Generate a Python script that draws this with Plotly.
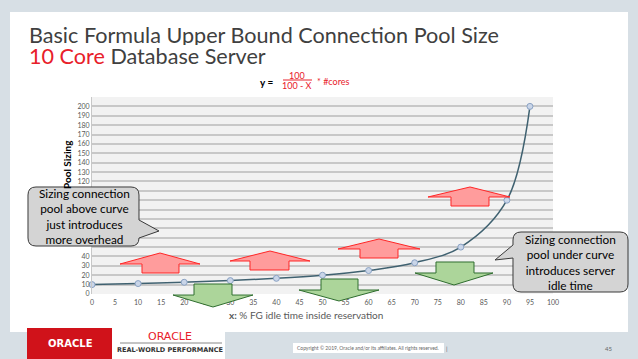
import plotly.graph_objects as go

# ---- data ----
idle_pct = [0, 10, 20, 30, 40, 50, 60, 70, 80, 90, 95]
pool_size = [10, 11.1, 12.5, 14.3, 16.7, 20, 25, 33.3, 50, 100, 200]
x_ticks = list(range(0, 101, 5))
y_ticks = list(range(0, 201, 10))
# labels 50-110 sit behind the left callout in the reference
y_hidden = set(range(50, 111, 10))

title_line1 = "Basic Formula Upper Bound Connection Pool Size"
title_red = "10 Core"
title_rest = " Database Server"
callout_left = ["Sizing connection", "pool above curve", "just introduces", "more overhead"]
callout_right = ["Sizing connection", "pool under curve", "introduces server", "idle time"]

FONT = "Lato"
FW, FH = 638, 359
L, R, T, B = 92, 553, 97, 294
W, H = R - L, B - T


def P(x, y):
    return (x - L) / W, (B - y) / H


def path(points, close=True):
    s = ""
    for i, p in enumerate(points):
        if p[0] == "Q":
            c = P(*p[1]); e = P(*p[2])
            s += f" Q{c[0]:.5f},{c[1]:.5f} {e[0]:.5f},{e[1]:.5f}"
        else:
            q = P(*p)
            s += (" M" if i == 0 else " L") + f"{q[0]:.5f},{q[1]:.5f}"
    return s.strip() + (" Z" if close else "")


def rounded_callout(x0, y0, x1, y1, r, wedge, side):
    pts = [(x0 + r, y0), (x1 - r, y0), ("Q", (x1, y0), (x1, y0 + r))]
    if side == "right":
        pts += [(x1, wedge[0]), wedge[1], (x1, wedge[2])]
    pts += [(x1, y1 - r), ("Q", (x1, y1), (x1 - r, y1)), (x0 + r, y1),
            ("Q", (x0, y1), (x0, y1 - r))]
    if side == "left":
        pts += [(x0, wedge[2]), wedge[1], (x0, wedge[0])]
    pts += [(x0, y0 + r), ("Q", (x0, y0), (x0 + r, y0))]
    return path(pts)


def up_arrow(tx, ty, hb, hx0, hx1, sx0, sx1, sb):
    return path([(tx, ty), (hx1, hb), (sx1, hb), (sx1, sb), (sx0, sb), (sx0, hb), (hx0, hb)])


def down_arrow(tx, ty, hb, hx0, hx1, sx0, sx1, st):
    return path([(tx, ty), (hx1, hb), (sx1, hb), (sx1, st), (sx0, st), (sx0, hb), (hx0, hb)])


fig = go.Figure()
fig.add_trace(go.Scatter(
    x=idle_pct, y=pool_size, mode="lines+markers",
    line=dict(color="#3f6170", width=1.5, shape="spline"),
    marker=dict(size=6, color="#c9d5e8", line=dict(color="#8aa2c4", width=1)),
    hoverinfo="skip", showlegend=False, cliponaxis=False))

shapes = []


def rect(x0, y0, x1, y1, fill, layer="below", line=None):
    a = P(x0, y0); b = P(x1, y1)
    return dict(type="rect", xref="paper", yref="paper", x0=a[0], y0=b[1], x1=b[0], y1=a[1],
                fillcolor=fill, line=line or dict(width=0), layer=layer)


shapes.append(rect(10, 12, 628, 332, "white"))
shapes.append(rect(L, T, R, B, "#f2f2f2"))
shapes.append(rect(27, 328, 112, 359, "#d0121a"))
shapes.append(rect(112, 328, 225, 359, "white"))
shapes.append(rect(293, 343, 444, 353, "white"))
a = P(120, 343); b = P(222, 343)
shapes.append(dict(type="line", xref="paper", yref="paper", x0=a[0], y0=a[1], x1=b[0], y1=b[1],
                   line=dict(color="#888888", width=1), layer="below"))
# fraction line
a = P(283, 80); b = P(312, 80)
shapes.append(dict(type="line", xref="paper", yref="paper", x0=a[0], y0=a[1], x1=b[0], y1=b[1],
                   line=dict(color="#e8202a", width=1)))

red_fill, red_line = "#ff9c9c", "#ff2626"
green_fill, green_line = "#acd59a", "#2f6e2f"
for arr in [(160, 253, 264, 120, 200, 142, 179, 273),
            (270, 251, 261, 230, 310, 250, 289, 270),
            (379, 239, 249, 338, 420, 360, 398, 258),
            (470, 187, 197, 428, 510, 451, 489, 206)]:
    shapes.append(dict(type="path", xref="paper", yref="paper", path=up_arrow(*arr),
                       fillcolor=red_fill, line=dict(color=red_line, width=1), layer="above"))
for arr in [(213, 307, 295, 173, 253, 194, 232, 284),
            (339, 301, 290, 299, 379, 321, 358, 279),
            (454, 285, 273, 415, 493, 436, 474, 262)]:
    shapes.append(dict(type="path", xref="paper", yref="paper", path=down_arrow(*arr),
                       fillcolor=green_fill, line=dict(color=green_line, width=1), layer="above"))

shapes.append(dict(type="path", xref="paper", yref="paper",
                   path=rounded_callout(28, 187, 139, 246, 8, (220, (159, 231), 238), "right"),
                   fillcolor="#d4d4d4", line=dict(color="#3a3a3a", width=1), layer="above"))
shapes.append(dict(type="path", xref="paper", yref="paper",
                   path=rounded_callout(513, 232, 628, 292, 8, (245, (495, 260), 258), "left"),
                   fillcolor="#d4d4d4", line=dict(color="#3a3a3a", width=1), layer="above"))

ann = []


def text(x, y, s, size, color="#404040", xanchor="center", bold=False, angle=0, family=FONT,
         height=None):
    px, py = P(x, y)
    d = dict(xref="paper", yref="paper", x=px, y=py, text=(f"<b>{s}</b>" if bold else s),
             showarrow=False, xanchor=xanchor, yanchor="middle", textangle=angle,
             align="center", font=dict(family=family, size=size, color=color))
    if height:
        d.update(height=height, borderpad=0, valign="middle")
    ann.append(d)


text(28, 34, title_line1, 21.6, "#404040", "left", height=21)
text(28, 56, f"<span style='color:#e8202a'>{title_red}</span>{title_rest}", 21.6, "#404040",
     "left", height=21)
text(266, 82, "y =", 10, "#000000", bold=True)
text(297, 75, "100", 9, "#e8202a")
text(297, 86, "100 - X", 9, "#e8202a")
text(315, 81, "* #cores", 9, "#e8202a", "left")
text(67, 165, "Pool Sizing", 10, "#000000", bold=True, angle=-90)
text(227, 315, "<b>x:</b> % FG idle time inside reservation", 10, "#595959", "left")
text(84, 216.5, "<br>".join(callout_left), 11.8, "#000000")
text(570, 262.5, "<br>".join(callout_right), 11.8, "#000000")
text(70, 343, "<b>ORACLE</b>", 10, "white", family="DejaVu Sans")
text(170, 336, "ORACLE", 11, "#e8202a", family="DejaVu Sans")
text(170, 350, "<b>REAL-WORLD PERFORMANCE</b>", 6.5, "#333333", family="DejaVu Sans")
text(368, 348, "Copyright © 2019, Oracle and/or its affiliates. All rights reserved.", 5, "#666666")
text(447, 348, "|", 6, "#666666")
text(608, 348, "45", 6, "#666666")

fig.update_layout(
    width=FW, height=FH, margin=dict(l=L, r=FW - R, t=T, b=FH - B, pad=0),
    paper_bgcolor="#d7dfe5", plot_bgcolor="rgba(0,0,0,0)",
    shapes=shapes, annotations=ann, showlegend=False,
    font=dict(family=FONT),
    xaxis=dict(range=[0, 100], tickvals=x_ticks, ticktext=[str(v) for v in x_ticks],
               showgrid=False, zeroline=False, showline=False, ticks="outside", ticklen=2,
               tickcolor="rgba(0,0,0,0)", tickfont=dict(size=7, color="#595959", family=FONT),
               fixedrange=True),
    yaxis=dict(range=[0, 210], tickvals=y_ticks,
               ticktext=["" if v in y_hidden else str(v) for v in y_ticks],
               showgrid=True, gridcolor="#c8c8c8", gridwidth=1.5, zeroline=False,
               showline=True, linecolor="#c8c8c8", linewidth=1, ticks="",
               tickfont=dict(size=7, color="#595959", family=FONT), fixedrange=True),
)
fig.write_html("out.html")
